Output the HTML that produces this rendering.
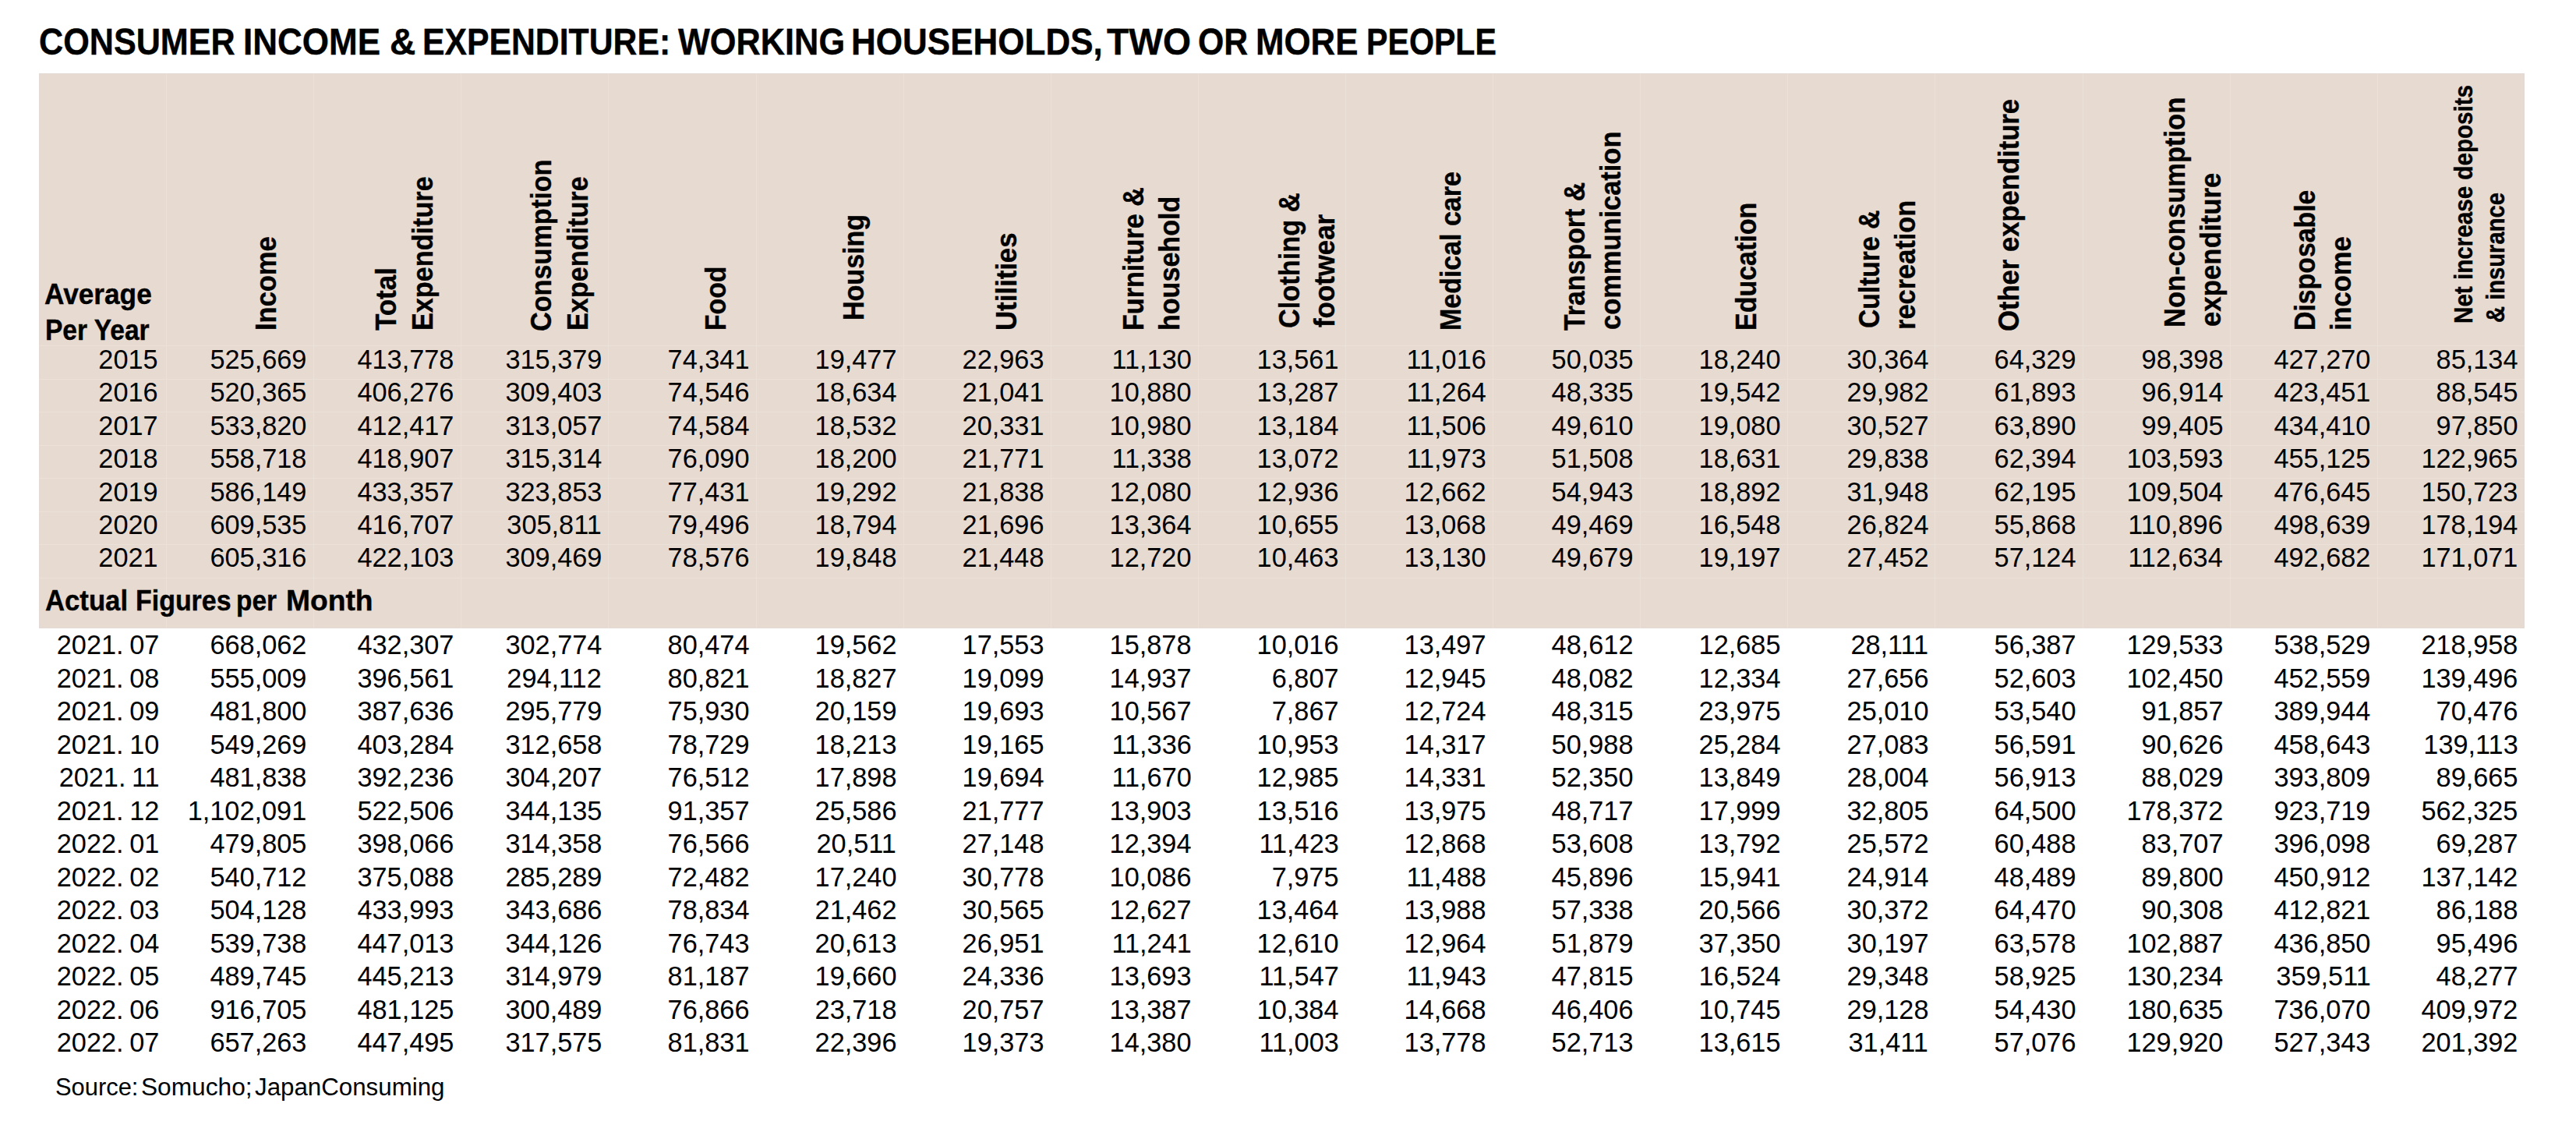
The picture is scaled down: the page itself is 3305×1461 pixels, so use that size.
<!DOCTYPE html>
<html><head><meta charset="utf-8"><title>Consumer Income &amp; Expenditure</title>
<style>
html,body{margin:0;padding:0;background:#fff;}
body{width:3305px;height:1461px;position:relative;overflow:hidden;font-family:"Liberation Sans",sans-serif;color:#000;}
.t{position:absolute;white-space:nowrap;line-height:0;transform-origin:0 0;}
.bg{position:absolute;background:#e7dad1;box-shadow:inset 0 0 0 1px #e3d9d5;}
.vl{position:absolute;width:1px;background:#ece1d9;}
.hl{position:absolute;height:1px;background:#ece1d9;}
.n{position:absolute;white-space:nowrap;text-align:right;font-size:35.80px;line-height:0;transform-origin:100% 0;transform:scaleX(0.9580);}
.h{position:absolute;white-space:nowrap;font-weight:bold;line-height:0;transform-origin:0 0;-webkit-text-stroke:0.4px;}
.b{font-weight:bold;-webkit-text-stroke:0.4px;}
</style></head><body>

<div class="bg" style="left:50px;top:94px;width:3189px;height:712px"></div>
<div class="vl" style="left:213px;top:94px;height:712px"></div>
<div class="vl" style="left:402px;top:94px;height:712px"></div>
<div class="vl" style="left:591px;top:94px;height:712px"></div>
<div class="vl" style="left:780px;top:94px;height:712px"></div>
<div class="vl" style="left:970px;top:94px;height:712px"></div>
<div class="vl" style="left:1159px;top:94px;height:712px"></div>
<div class="vl" style="left:1348px;top:94px;height:712px"></div>
<div class="vl" style="left:1537px;top:94px;height:712px"></div>
<div class="vl" style="left:1726px;top:94px;height:712px"></div>
<div class="vl" style="left:1915px;top:94px;height:712px"></div>
<div class="vl" style="left:2104px;top:94px;height:712px"></div>
<div class="vl" style="left:2293px;top:94px;height:712px"></div>
<div class="vl" style="left:2482px;top:94px;height:712px"></div>
<div class="vl" style="left:2672px;top:94px;height:712px"></div>
<div class="vl" style="left:2861px;top:94px;height:712px"></div>
<div class="vl" style="left:3050px;top:94px;height:712px"></div>
<div class="hl" style="left:50px;top:443px;width:3189px"></div>
<div class="hl" style="left:50px;top:486px;width:3189px"></div>
<div class="hl" style="left:50px;top:528px;width:3189px"></div>
<div class="hl" style="left:50px;top:571px;width:3189px"></div>
<div class="hl" style="left:50px;top:613px;width:3189px"></div>
<div class="hl" style="left:50px;top:656px;width:3189px"></div>
<div class="hl" style="left:50px;top:698px;width:3189px"></div>
<div class="hl" style="left:50px;top:741px;width:3189px"></div>
<div class="t b" id="tw0" style="left:49.50px;top:53.02px;font-size:48.70px;transform:scaleX(0.8865)">CONSUMER</div>
<div class="t b" id="tw1" style="left:312.20px;top:53.02px;font-size:48.70px;transform:scaleX(0.9043)">INCOME</div>
<div class="t b" id="tw2" style="left:499.60px;top:53.02px;font-size:48.70px;transform:scaleX(0.9470)">&amp;</div>
<div class="t b" id="tw3" style="left:541.80px;top:53.02px;font-size:48.70px;transform:scaleX(0.8777)">EXPENDITURE:</div>
<div class="t b" id="tw4" style="left:869.60px;top:53.02px;font-size:48.70px;transform:scaleX(0.8893)">WORKING</div>
<div class="t b" id="tw5" style="left:1091.70px;top:53.02px;font-size:48.70px;transform:scaleX(0.9040)">HOUSEHOLDS,</div>
<div class="t b" id="tw6" style="left:1420.40px;top:53.02px;font-size:48.70px;transform:scaleX(0.9509)">TWO</div>
<div class="t b" id="tw7" style="left:1537.10px;top:53.02px;font-size:48.70px;transform:scaleX(0.8800)">OR</div>
<div class="t b" id="tw8" style="left:1610.70px;top:53.02px;font-size:48.70px;transform:scaleX(0.9003)">MORE</div>
<div class="t b" id="tw9" style="left:1752.60px;top:53.02px;font-size:48.70px;transform:scaleX(0.8453)">PEOPLE</div>
<div class="t" id="sw0" style="left:71.00px;top:1395.05px;font-size:31.00px;transform:scaleX(0.9959)">Source:</div>
<div class="t" id="sw1" style="left:180.80px;top:1395.05px;font-size:31.00px;transform:scaleX(1.0212)">Somucho;</div>
<div class="t" id="sw2" style="left:326.90px;top:1395.05px;font-size:31.00px;transform:scaleX(1.0090)">JapanConsuming</div>
<div class="t b" id="aw0" style="left:58.30px;top:771.22px;font-size:36.00px;transform:scaleX(0.9640)">Actual</div>
<div class="t b" id="aw1" style="left:173.80px;top:771.22px;font-size:36.00px;transform:scaleX(0.9426)">Figures</div>
<div class="t b" id="aw2" style="left:302.70px;top:771.22px;font-size:36.00px;transform:scaleX(0.9267)">per</div>
<div class="t b" id="aw3" style="left:366.70px;top:771.22px;font-size:36.00px;transform:scaleX(1.0332)">Month</div>
<div class="h" id="h0_0" style="left:341.74px;top:424.00px;font-size:36.80px;transform:rotate(-90deg) scaleX(0.9367)">Income</div>
<div class="h" id="h1_0" style="left:496.34px;top:424.00px;font-size:36.80px;transform:rotate(-90deg) scaleX(0.9484)">Total</div>
<div class="h" id="h1_1" style="left:542.64px;top:424.00px;font-size:36.80px;transform:rotate(-90deg) scaleX(0.9298)">Expenditure</div>
<div class="h" id="h2_0" style="left:695.24px;top:425.00px;font-size:36.80px;transform:rotate(-90deg) scaleX(0.9299)">Consumption</div>
<div class="h" id="h2_1" style="left:741.54px;top:424.00px;font-size:36.80px;transform:rotate(-90deg) scaleX(0.9298)">Expenditure</div>
<div class="h" id="h3_0" style="left:919.44px;top:424.00px;font-size:36.80px;transform:rotate(-90deg) scaleX(0.9151)">Food</div>
<div class="h" id="h4_0" style="left:1096.04px;top:411.00px;font-size:36.80px;transform:rotate(-90deg) scaleX(0.9249)">Housing</div>
<div class="h" id="h5_0" style="left:1292.14px;top:424.00px;font-size:36.80px;transform:rotate(-90deg) scaleX(0.9444)">Utilities</div>
<div class="h" id="h6_0" style="left:1454.84px;top:424.00px;font-size:36.80px;transform:rotate(-90deg) scaleX(0.9270)">Furniture &amp;</div>
<div class="h" id="h6_1" style="left:1501.04px;top:424.00px;font-size:36.80px;transform:rotate(-90deg) scaleX(0.9259)">household</div>
<div class="h" id="h7_0" style="left:1654.54px;top:421.00px;font-size:36.80px;transform:rotate(-90deg) scaleX(0.9326)">Clothing &amp;</div>
<div class="h" id="h7_1" style="left:1699.94px;top:420.00px;font-size:36.80px;transform:rotate(-90deg) scaleX(0.9467)">footwear</div>
<div class="h" id="h8_0" style="left:1861.74px;top:424.00px;font-size:36.80px;transform:rotate(-90deg) scaleX(0.9228)">Medical care</div>
<div class="h" id="h9_0" style="left:2020.64px;top:424.00px;font-size:36.80px;transform:rotate(-90deg) scaleX(0.9211)">Transport &amp;</div>
<div class="h" id="h9_1" style="left:2066.94px;top:423.00px;font-size:36.80px;transform:rotate(-90deg) scaleX(0.9357)">communication</div>
<div class="h" id="h10_0" style="left:2240.64px;top:424.00px;font-size:36.80px;transform:rotate(-90deg) scaleX(0.9235)">Education</div>
<div class="h" id="h11_0" style="left:2399.24px;top:421.00px;font-size:36.80px;transform:rotate(-90deg) scaleX(0.9134)">Culture &amp;</div>
<div class="h" id="h11_1" style="left:2444.94px;top:423.00px;font-size:36.80px;transform:rotate(-90deg) scaleX(0.9347)">recreation</div>
<div class="h" id="h12_0" style="left:2578.34px;top:425.00px;font-size:36.80px;transform:rotate(-90deg) scaleX(0.9404)">Other expenditure</div>
<div class="h" id="h13_0" style="left:2790.64px;top:420.00px;font-size:36.80px;transform:rotate(-90deg) scaleX(0.9380)">Non-consumption</div>
<div class="h" id="h13_1" style="left:2836.94px;top:419.00px;font-size:36.80px;transform:rotate(-90deg) scaleX(0.9462)">expenditure</div>
<div class="h" id="h14_0" style="left:2957.84px;top:424.00px;font-size:36.80px;transform:rotate(-90deg) scaleX(0.9188)">Disposable</div>
<div class="h" id="h14_1" style="left:3003.54px;top:424.00px;font-size:36.80px;transform:rotate(-90deg) scaleX(0.9358)">income</div>
<div class="h" id="h15_0" style="left:3161.02px;top:415.00px;font-size:33.12px;transform:rotate(-90deg) scaleX(0.8943)">Net increase deposits</div>
<div class="h" id="h15_1" style="left:3202.22px;top:414.00px;font-size:33.12px;transform:rotate(-90deg) scaleX(0.8805)">&amp; insurance</div>
<div class="t b" id="avg" style="left:57.00px;top:377.84px;font-size:36.80px;transform:scaleX(0.9573)">Average</div>
<div class="t b" id="per" style="left:58.00px;top:423.64px;font-size:36.80px;transform:scaleX(0.9109)">Per Year</div>
<div class="n" style="right:3102.1px;top:460.59px">2015</div><div class="n" style="right:2911.4px;top:460.59px">525,669</div><div class="n" style="right:2722.2px;top:460.59px">413,778</div><div class="n" style="right:2533.1px;top:460.59px">315,379</div><div class="n" style="right:2344.0px;top:460.59px">74,341</div><div class="n" style="right:2154.9px;top:460.59px">19,477</div><div class="n" style="right:1965.8px;top:460.59px">22,963</div><div class="n" style="right:1776.6px;top:460.59px">11,130</div><div class="n" style="right:1587.5px;top:460.59px">13,561</div><div class="n" style="right:1398.4px;top:460.59px">11,016</div><div class="n" style="right:1209.2px;top:460.59px">50,035</div><div class="n" style="right:1020.1px;top:460.59px">18,240</div><div class="n" style="right:831.0px;top:460.59px">30,364</div><div class="n" style="right:641.9px;top:460.59px">64,329</div><div class="n" style="right:452.8px;top:460.59px">98,398</div><div class="n" style="right:263.6px;top:460.59px">427,270</div><div class="n" style="right:74.5px;top:460.59px">85,134</div>
<div class="n" style="right:3102.1px;top:503.07px">2016</div><div class="n" style="right:2911.4px;top:503.07px">520,365</div><div class="n" style="right:2722.2px;top:503.07px">406,276</div><div class="n" style="right:2533.1px;top:503.07px">309,403</div><div class="n" style="right:2344.0px;top:503.07px">74,546</div><div class="n" style="right:2154.9px;top:503.07px">18,634</div><div class="n" style="right:1965.8px;top:503.07px">21,041</div><div class="n" style="right:1776.6px;top:503.07px">10,880</div><div class="n" style="right:1587.5px;top:503.07px">13,287</div><div class="n" style="right:1398.4px;top:503.07px">11,264</div><div class="n" style="right:1209.2px;top:503.07px">48,335</div><div class="n" style="right:1020.1px;top:503.07px">19,542</div><div class="n" style="right:831.0px;top:503.07px">29,982</div><div class="n" style="right:641.9px;top:503.07px">61,893</div><div class="n" style="right:452.8px;top:503.07px">96,914</div><div class="n" style="right:263.6px;top:503.07px">423,451</div><div class="n" style="right:74.5px;top:503.07px">88,545</div>
<div class="n" style="right:3102.1px;top:545.55px">2017</div><div class="n" style="right:2911.4px;top:545.55px">533,820</div><div class="n" style="right:2722.2px;top:545.55px">412,417</div><div class="n" style="right:2533.1px;top:545.55px">313,057</div><div class="n" style="right:2344.0px;top:545.55px">74,584</div><div class="n" style="right:2154.9px;top:545.55px">18,532</div><div class="n" style="right:1965.8px;top:545.55px">20,331</div><div class="n" style="right:1776.6px;top:545.55px">10,980</div><div class="n" style="right:1587.5px;top:545.55px">13,184</div><div class="n" style="right:1398.4px;top:545.55px">11,506</div><div class="n" style="right:1209.2px;top:545.55px">49,610</div><div class="n" style="right:1020.1px;top:545.55px">19,080</div><div class="n" style="right:831.0px;top:545.55px">30,527</div><div class="n" style="right:641.9px;top:545.55px">63,890</div><div class="n" style="right:452.8px;top:545.55px">99,405</div><div class="n" style="right:263.6px;top:545.55px">434,410</div><div class="n" style="right:74.5px;top:545.55px">97,850</div>
<div class="n" style="right:3102.1px;top:588.03px">2018</div><div class="n" style="right:2911.4px;top:588.03px">558,718</div><div class="n" style="right:2722.2px;top:588.03px">418,907</div><div class="n" style="right:2533.1px;top:588.03px">315,314</div><div class="n" style="right:2344.0px;top:588.03px">76,090</div><div class="n" style="right:2154.9px;top:588.03px">18,200</div><div class="n" style="right:1965.8px;top:588.03px">21,771</div><div class="n" style="right:1776.6px;top:588.03px">11,338</div><div class="n" style="right:1587.5px;top:588.03px">13,072</div><div class="n" style="right:1398.4px;top:588.03px">11,973</div><div class="n" style="right:1209.2px;top:588.03px">51,508</div><div class="n" style="right:1020.1px;top:588.03px">18,631</div><div class="n" style="right:831.0px;top:588.03px">29,838</div><div class="n" style="right:641.9px;top:588.03px">62,394</div><div class="n" style="right:452.8px;top:588.03px">103,593</div><div class="n" style="right:263.6px;top:588.03px">455,125</div><div class="n" style="right:74.5px;top:588.03px">122,965</div>
<div class="n" style="right:3102.1px;top:630.51px">2019</div><div class="n" style="right:2911.4px;top:630.51px">586,149</div><div class="n" style="right:2722.2px;top:630.51px">433,357</div><div class="n" style="right:2533.1px;top:630.51px">323,853</div><div class="n" style="right:2344.0px;top:630.51px">77,431</div><div class="n" style="right:2154.9px;top:630.51px">19,292</div><div class="n" style="right:1965.8px;top:630.51px">21,838</div><div class="n" style="right:1776.6px;top:630.51px">12,080</div><div class="n" style="right:1587.5px;top:630.51px">12,936</div><div class="n" style="right:1398.4px;top:630.51px">12,662</div><div class="n" style="right:1209.2px;top:630.51px">54,943</div><div class="n" style="right:1020.1px;top:630.51px">18,892</div><div class="n" style="right:831.0px;top:630.51px">31,948</div><div class="n" style="right:641.9px;top:630.51px">62,195</div><div class="n" style="right:452.8px;top:630.51px">109,504</div><div class="n" style="right:263.6px;top:630.51px">476,645</div><div class="n" style="right:74.5px;top:630.51px">150,723</div>
<div class="n" style="right:3102.1px;top:672.99px">2020</div><div class="n" style="right:2911.4px;top:672.99px">609,535</div><div class="n" style="right:2722.2px;top:672.99px">416,707</div><div class="n" style="right:2533.1px;top:672.99px">305,811</div><div class="n" style="right:2344.0px;top:672.99px">79,496</div><div class="n" style="right:2154.9px;top:672.99px">18,794</div><div class="n" style="right:1965.8px;top:672.99px">21,696</div><div class="n" style="right:1776.6px;top:672.99px">13,364</div><div class="n" style="right:1587.5px;top:672.99px">10,655</div><div class="n" style="right:1398.4px;top:672.99px">13,068</div><div class="n" style="right:1209.2px;top:672.99px">49,469</div><div class="n" style="right:1020.1px;top:672.99px">16,548</div><div class="n" style="right:831.0px;top:672.99px">26,824</div><div class="n" style="right:641.9px;top:672.99px">55,868</div><div class="n" style="right:452.8px;top:672.99px">110,896</div><div class="n" style="right:263.6px;top:672.99px">498,639</div><div class="n" style="right:74.5px;top:672.99px">178,194</div>
<div class="n" style="right:3102.1px;top:715.47px">2021</div><div class="n" style="right:2911.4px;top:715.47px">605,316</div><div class="n" style="right:2722.2px;top:715.47px">422,103</div><div class="n" style="right:2533.1px;top:715.47px">309,469</div><div class="n" style="right:2344.0px;top:715.47px">78,576</div><div class="n" style="right:2154.9px;top:715.47px">19,848</div><div class="n" style="right:1965.8px;top:715.47px">21,448</div><div class="n" style="right:1776.6px;top:715.47px">12,720</div><div class="n" style="right:1587.5px;top:715.47px">10,463</div><div class="n" style="right:1398.4px;top:715.47px">13,130</div><div class="n" style="right:1209.2px;top:715.47px">49,679</div><div class="n" style="right:1020.1px;top:715.47px">19,197</div><div class="n" style="right:831.0px;top:715.47px">27,452</div><div class="n" style="right:641.9px;top:715.47px">57,124</div><div class="n" style="right:452.8px;top:715.47px">112,634</div><div class="n" style="right:263.6px;top:715.47px">492,682</div><div class="n" style="right:74.5px;top:715.47px">171,071</div>
<div class="n" style="right:3100.5px;top:827.39px;word-spacing:-2.00px">2021. 07</div><div class="n" style="right:2911.4px;top:827.39px">668,062</div><div class="n" style="right:2722.2px;top:827.39px">432,307</div><div class="n" style="right:2533.1px;top:827.39px">302,774</div><div class="n" style="right:2344.0px;top:827.39px">80,474</div><div class="n" style="right:2154.9px;top:827.39px">19,562</div><div class="n" style="right:1965.8px;top:827.39px">17,553</div><div class="n" style="right:1776.6px;top:827.39px">15,878</div><div class="n" style="right:1587.5px;top:827.39px">10,016</div><div class="n" style="right:1398.4px;top:827.39px">13,497</div><div class="n" style="right:1209.2px;top:827.39px">48,612</div><div class="n" style="right:1020.1px;top:827.39px">12,685</div><div class="n" style="right:831.0px;top:827.39px">28,111</div><div class="n" style="right:641.9px;top:827.39px">56,387</div><div class="n" style="right:452.8px;top:827.39px">129,533</div><div class="n" style="right:263.6px;top:827.39px">538,529</div><div class="n" style="right:74.5px;top:827.39px">218,958</div>
<div class="n" style="right:3100.5px;top:869.88px;word-spacing:-2.00px">2021. 08</div><div class="n" style="right:2911.4px;top:869.88px">555,009</div><div class="n" style="right:2722.2px;top:869.88px">396,561</div><div class="n" style="right:2533.1px;top:869.88px">294,112</div><div class="n" style="right:2344.0px;top:869.88px">80,821</div><div class="n" style="right:2154.9px;top:869.88px">18,827</div><div class="n" style="right:1965.8px;top:869.88px">19,099</div><div class="n" style="right:1776.6px;top:869.88px">14,937</div><div class="n" style="right:1587.5px;top:869.88px">6,807</div><div class="n" style="right:1398.4px;top:869.88px">12,945</div><div class="n" style="right:1209.2px;top:869.88px">48,082</div><div class="n" style="right:1020.1px;top:869.88px">12,334</div><div class="n" style="right:831.0px;top:869.88px">27,656</div><div class="n" style="right:641.9px;top:869.88px">52,603</div><div class="n" style="right:452.8px;top:869.88px">102,450</div><div class="n" style="right:263.6px;top:869.88px">452,559</div><div class="n" style="right:74.5px;top:869.88px">139,496</div>
<div class="n" style="right:3100.5px;top:912.37px;word-spacing:-2.00px">2021. 09</div><div class="n" style="right:2911.4px;top:912.37px">481,800</div><div class="n" style="right:2722.2px;top:912.37px">387,636</div><div class="n" style="right:2533.1px;top:912.37px">295,779</div><div class="n" style="right:2344.0px;top:912.37px">75,930</div><div class="n" style="right:2154.9px;top:912.37px">20,159</div><div class="n" style="right:1965.8px;top:912.37px">19,693</div><div class="n" style="right:1776.6px;top:912.37px">10,567</div><div class="n" style="right:1587.5px;top:912.37px">7,867</div><div class="n" style="right:1398.4px;top:912.37px">12,724</div><div class="n" style="right:1209.2px;top:912.37px">48,315</div><div class="n" style="right:1020.1px;top:912.37px">23,975</div><div class="n" style="right:831.0px;top:912.37px">25,010</div><div class="n" style="right:641.9px;top:912.37px">53,540</div><div class="n" style="right:452.8px;top:912.37px">91,857</div><div class="n" style="right:263.6px;top:912.37px">389,944</div><div class="n" style="right:74.5px;top:912.37px">70,476</div>
<div class="n" style="right:3100.5px;top:954.86px;word-spacing:-2.00px">2021. 10</div><div class="n" style="right:2911.4px;top:954.86px">549,269</div><div class="n" style="right:2722.2px;top:954.86px">403,284</div><div class="n" style="right:2533.1px;top:954.86px">312,658</div><div class="n" style="right:2344.0px;top:954.86px">78,729</div><div class="n" style="right:2154.9px;top:954.86px">18,213</div><div class="n" style="right:1965.8px;top:954.86px">19,165</div><div class="n" style="right:1776.6px;top:954.86px">11,336</div><div class="n" style="right:1587.5px;top:954.86px">10,953</div><div class="n" style="right:1398.4px;top:954.86px">14,317</div><div class="n" style="right:1209.2px;top:954.86px">50,988</div><div class="n" style="right:1020.1px;top:954.86px">25,284</div><div class="n" style="right:831.0px;top:954.86px">27,083</div><div class="n" style="right:641.9px;top:954.86px">56,591</div><div class="n" style="right:452.8px;top:954.86px">90,626</div><div class="n" style="right:263.6px;top:954.86px">458,643</div><div class="n" style="right:74.5px;top:954.86px">139,113</div>
<div class="n" style="right:3100.5px;top:997.35px;word-spacing:-2.00px">2021. 11</div><div class="n" style="right:2911.4px;top:997.35px">481,838</div><div class="n" style="right:2722.2px;top:997.35px">392,236</div><div class="n" style="right:2533.1px;top:997.35px">304,207</div><div class="n" style="right:2344.0px;top:997.35px">76,512</div><div class="n" style="right:2154.9px;top:997.35px">17,898</div><div class="n" style="right:1965.8px;top:997.35px">19,694</div><div class="n" style="right:1776.6px;top:997.35px">11,670</div><div class="n" style="right:1587.5px;top:997.35px">12,985</div><div class="n" style="right:1398.4px;top:997.35px">14,331</div><div class="n" style="right:1209.2px;top:997.35px">52,350</div><div class="n" style="right:1020.1px;top:997.35px">13,849</div><div class="n" style="right:831.0px;top:997.35px">28,004</div><div class="n" style="right:641.9px;top:997.35px">56,913</div><div class="n" style="right:452.8px;top:997.35px">88,029</div><div class="n" style="right:263.6px;top:997.35px">393,809</div><div class="n" style="right:74.5px;top:997.35px">89,665</div>
<div class="n" style="right:3100.5px;top:1039.84px;word-spacing:-2.00px">2021. 12</div><div class="n" style="right:2911.4px;top:1039.84px">1,102,091</div><div class="n" style="right:2722.2px;top:1039.84px">522,506</div><div class="n" style="right:2533.1px;top:1039.84px">344,135</div><div class="n" style="right:2344.0px;top:1039.84px">91,357</div><div class="n" style="right:2154.9px;top:1039.84px">25,586</div><div class="n" style="right:1965.8px;top:1039.84px">21,777</div><div class="n" style="right:1776.6px;top:1039.84px">13,903</div><div class="n" style="right:1587.5px;top:1039.84px">13,516</div><div class="n" style="right:1398.4px;top:1039.84px">13,975</div><div class="n" style="right:1209.2px;top:1039.84px">48,717</div><div class="n" style="right:1020.1px;top:1039.84px">17,999</div><div class="n" style="right:831.0px;top:1039.84px">32,805</div><div class="n" style="right:641.9px;top:1039.84px">64,500</div><div class="n" style="right:452.8px;top:1039.84px">178,372</div><div class="n" style="right:263.6px;top:1039.84px">923,719</div><div class="n" style="right:74.5px;top:1039.84px">562,325</div>
<div class="n" style="right:3100.5px;top:1082.33px;word-spacing:-2.00px">2022. 01</div><div class="n" style="right:2911.4px;top:1082.33px">479,805</div><div class="n" style="right:2722.2px;top:1082.33px">398,066</div><div class="n" style="right:2533.1px;top:1082.33px">314,358</div><div class="n" style="right:2344.0px;top:1082.33px">76,566</div><div class="n" style="right:2154.9px;top:1082.33px">20,511</div><div class="n" style="right:1965.8px;top:1082.33px">27,148</div><div class="n" style="right:1776.6px;top:1082.33px">12,394</div><div class="n" style="right:1587.5px;top:1082.33px">11,423</div><div class="n" style="right:1398.4px;top:1082.33px">12,868</div><div class="n" style="right:1209.2px;top:1082.33px">53,608</div><div class="n" style="right:1020.1px;top:1082.33px">13,792</div><div class="n" style="right:831.0px;top:1082.33px">25,572</div><div class="n" style="right:641.9px;top:1082.33px">60,488</div><div class="n" style="right:452.8px;top:1082.33px">83,707</div><div class="n" style="right:263.6px;top:1082.33px">396,098</div><div class="n" style="right:74.5px;top:1082.33px">69,287</div>
<div class="n" style="right:3100.5px;top:1124.82px;word-spacing:-2.00px">2022. 02</div><div class="n" style="right:2911.4px;top:1124.82px">540,712</div><div class="n" style="right:2722.2px;top:1124.82px">375,088</div><div class="n" style="right:2533.1px;top:1124.82px">285,289</div><div class="n" style="right:2344.0px;top:1124.82px">72,482</div><div class="n" style="right:2154.9px;top:1124.82px">17,240</div><div class="n" style="right:1965.8px;top:1124.82px">30,778</div><div class="n" style="right:1776.6px;top:1124.82px">10,086</div><div class="n" style="right:1587.5px;top:1124.82px">7,975</div><div class="n" style="right:1398.4px;top:1124.82px">11,488</div><div class="n" style="right:1209.2px;top:1124.82px">45,896</div><div class="n" style="right:1020.1px;top:1124.82px">15,941</div><div class="n" style="right:831.0px;top:1124.82px">24,914</div><div class="n" style="right:641.9px;top:1124.82px">48,489</div><div class="n" style="right:452.8px;top:1124.82px">89,800</div><div class="n" style="right:263.6px;top:1124.82px">450,912</div><div class="n" style="right:74.5px;top:1124.82px">137,142</div>
<div class="n" style="right:3100.5px;top:1167.31px;word-spacing:-2.00px">2022. 03</div><div class="n" style="right:2911.4px;top:1167.31px">504,128</div><div class="n" style="right:2722.2px;top:1167.31px">433,993</div><div class="n" style="right:2533.1px;top:1167.31px">343,686</div><div class="n" style="right:2344.0px;top:1167.31px">78,834</div><div class="n" style="right:2154.9px;top:1167.31px">21,462</div><div class="n" style="right:1965.8px;top:1167.31px">30,565</div><div class="n" style="right:1776.6px;top:1167.31px">12,627</div><div class="n" style="right:1587.5px;top:1167.31px">13,464</div><div class="n" style="right:1398.4px;top:1167.31px">13,988</div><div class="n" style="right:1209.2px;top:1167.31px">57,338</div><div class="n" style="right:1020.1px;top:1167.31px">20,566</div><div class="n" style="right:831.0px;top:1167.31px">30,372</div><div class="n" style="right:641.9px;top:1167.31px">64,470</div><div class="n" style="right:452.8px;top:1167.31px">90,308</div><div class="n" style="right:263.6px;top:1167.31px">412,821</div><div class="n" style="right:74.5px;top:1167.31px">86,188</div>
<div class="n" style="right:3100.5px;top:1209.80px;word-spacing:-2.00px">2022. 04</div><div class="n" style="right:2911.4px;top:1209.80px">539,738</div><div class="n" style="right:2722.2px;top:1209.80px">447,013</div><div class="n" style="right:2533.1px;top:1209.80px">344,126</div><div class="n" style="right:2344.0px;top:1209.80px">76,743</div><div class="n" style="right:2154.9px;top:1209.80px">20,613</div><div class="n" style="right:1965.8px;top:1209.80px">26,951</div><div class="n" style="right:1776.6px;top:1209.80px">11,241</div><div class="n" style="right:1587.5px;top:1209.80px">12,610</div><div class="n" style="right:1398.4px;top:1209.80px">12,964</div><div class="n" style="right:1209.2px;top:1209.80px">51,879</div><div class="n" style="right:1020.1px;top:1209.80px">37,350</div><div class="n" style="right:831.0px;top:1209.80px">30,197</div><div class="n" style="right:641.9px;top:1209.80px">63,578</div><div class="n" style="right:452.8px;top:1209.80px">102,887</div><div class="n" style="right:263.6px;top:1209.80px">436,850</div><div class="n" style="right:74.5px;top:1209.80px">95,496</div>
<div class="n" style="right:3100.5px;top:1252.29px;word-spacing:-2.00px">2022. 05</div><div class="n" style="right:2911.4px;top:1252.29px">489,745</div><div class="n" style="right:2722.2px;top:1252.29px">445,213</div><div class="n" style="right:2533.1px;top:1252.29px">314,979</div><div class="n" style="right:2344.0px;top:1252.29px">81,187</div><div class="n" style="right:2154.9px;top:1252.29px">19,660</div><div class="n" style="right:1965.8px;top:1252.29px">24,336</div><div class="n" style="right:1776.6px;top:1252.29px">13,693</div><div class="n" style="right:1587.5px;top:1252.29px">11,547</div><div class="n" style="right:1398.4px;top:1252.29px">11,943</div><div class="n" style="right:1209.2px;top:1252.29px">47,815</div><div class="n" style="right:1020.1px;top:1252.29px">16,524</div><div class="n" style="right:831.0px;top:1252.29px">29,348</div><div class="n" style="right:641.9px;top:1252.29px">58,925</div><div class="n" style="right:452.8px;top:1252.29px">130,234</div><div class="n" style="right:263.6px;top:1252.29px">359,511</div><div class="n" style="right:74.5px;top:1252.29px">48,277</div>
<div class="n" style="right:3100.5px;top:1294.78px;word-spacing:-2.00px">2022. 06</div><div class="n" style="right:2911.4px;top:1294.78px">916,705</div><div class="n" style="right:2722.2px;top:1294.78px">481,125</div><div class="n" style="right:2533.1px;top:1294.78px">300,489</div><div class="n" style="right:2344.0px;top:1294.78px">76,866</div><div class="n" style="right:2154.9px;top:1294.78px">23,718</div><div class="n" style="right:1965.8px;top:1294.78px">20,757</div><div class="n" style="right:1776.6px;top:1294.78px">13,387</div><div class="n" style="right:1587.5px;top:1294.78px">10,384</div><div class="n" style="right:1398.4px;top:1294.78px">14,668</div><div class="n" style="right:1209.2px;top:1294.78px">46,406</div><div class="n" style="right:1020.1px;top:1294.78px">10,745</div><div class="n" style="right:831.0px;top:1294.78px">29,128</div><div class="n" style="right:641.9px;top:1294.78px">54,430</div><div class="n" style="right:452.8px;top:1294.78px">180,635</div><div class="n" style="right:263.6px;top:1294.78px">736,070</div><div class="n" style="right:74.5px;top:1294.78px">409,972</div>
<div class="n" style="right:3100.5px;top:1337.27px;word-spacing:-2.00px">2022. 07</div><div class="n" style="right:2911.4px;top:1337.27px">657,263</div><div class="n" style="right:2722.2px;top:1337.27px">447,495</div><div class="n" style="right:2533.1px;top:1337.27px">317,575</div><div class="n" style="right:2344.0px;top:1337.27px">81,831</div><div class="n" style="right:2154.9px;top:1337.27px">22,396</div><div class="n" style="right:1965.8px;top:1337.27px">19,373</div><div class="n" style="right:1776.6px;top:1337.27px">14,380</div><div class="n" style="right:1587.5px;top:1337.27px">11,003</div><div class="n" style="right:1398.4px;top:1337.27px">13,778</div><div class="n" style="right:1209.2px;top:1337.27px">52,713</div><div class="n" style="right:1020.1px;top:1337.27px">13,615</div><div class="n" style="right:831.0px;top:1337.27px">31,411</div><div class="n" style="right:641.9px;top:1337.27px">57,076</div><div class="n" style="right:452.8px;top:1337.27px">129,920</div><div class="n" style="right:263.6px;top:1337.27px">527,343</div><div class="n" style="right:74.5px;top:1337.27px">201,392</div>
</body></html>
